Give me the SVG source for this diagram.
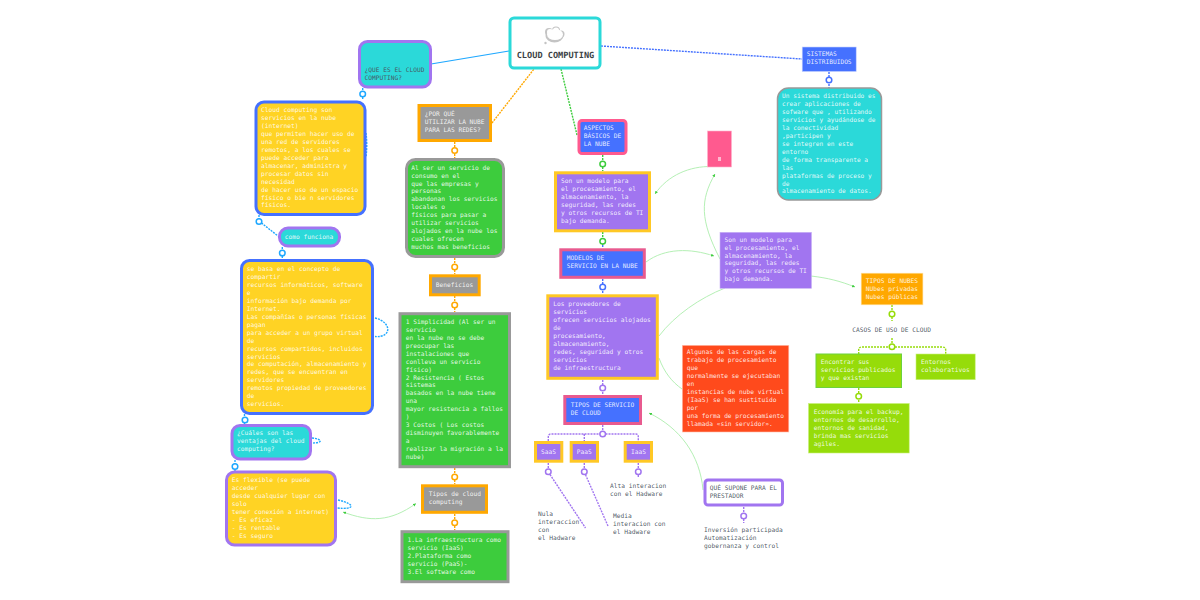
<svg xmlns="http://www.w3.org/2000/svg" width="1200" height="600" viewBox="0 0 1200 600">
<style>
text{font-family:"DejaVu Sans Mono","Liberation Mono",monospace;font-size:6.22px;fill:#fff;fill-opacity:.88;text-rendering:geometricPrecision;transform:translateY(-.6px)}
.d{fill:#47525c;fill-opacity:.95}
.box{stroke-width:3}
.c{fill:#fff;stroke-width:1.5}
.dash{fill:none;stroke-width:1.4;stroke-dasharray:2 1}
.soft{fill:none;stroke:#b5f0b5;stroke-width:1;marker-end:url(#a)}
.blue{stroke:#1fa8ff}.roy{stroke:#4571ff}.or{stroke:#ffa800}.gr{stroke:#3dcc3d}.pu{stroke:#a175f0}.li{stroke:#96dc0a}
</style>
<defs>
<marker id="a" markerWidth="4" markerHeight="4" refX="3" refY="1.5" orient="auto" markerUnits="userSpaceOnUse"><path d="M0,0L3,1.5L0,3z" fill="#3dcc3d"/></marker>
<marker id="b" markerWidth="4" markerHeight="4" refX="3" refY="1.5" orient="auto-start-reverse" markerUnits="userSpaceOnUse"><path d="M0,0L3,1.5L0,3z" fill="#3dcc3d"/></marker>
<filter id="s" x="-20%" y="-20%" width="140%" height="140%"><feGaussianBlur stdDeviation=".6"/></filter>
</defs>
<g id="connectors">
<path d="M431,64L509,51" fill="none" stroke="#1fa8ff" stroke-width="1.2"/>
<path class="dash or" d="M492,123L534,69"/>
<path class="dash gr" d="M561,69L577,135"/>
<path class="dash roy" d="M601,46L802,59"/>
<path class="dash blue" d="M362.7,88V100M259,215V221L278,236M282.3,247V259M244.5,414V424M235,460V471"/>
<path class="dash blue" d="M366,133C367,140 367,150 366,157M375,318C392,322 392,338 375,336.5M312,438C322,439 324,443 312,443M338,500C356,504 355,510 337,508"/>
<path class="dash or" d="M454.7,142V158M454.7,258V274M454.7,296V312M454.7,468V484M454.7,514V530"/>
<path class="dash gr" d="M602.7,155V171M602.7,232V245"/>
<path class="dash roy" d="M602.7,245V248M602.7,279V294"/>
<path class="dash pu" d="M602.7,380V395M602.7,425V434M548.3,441V437Q548.3,434 551,434H636Q638.3,434 638.3,437V441M584.3,434V441M548.3,463V472L585.5,528M584.3,463V472L608,526M638.3,463V478M743.7,507V523"/>
<path class="dash roy" d="M829,72V88"/>
<path class="dash li" d="M892,305V321M892,338V347M858.7,354V350Q858.7,347 862,347H942Q945.7,347 945.7,350V354M858.7,388V403"/>
<path class="soft" style="marker-start:url(#b)" d="M343,512C370,522 390,522 416,503.5"/>
<path class="soft" d="M712,166.5C690,166 668,175 655,194"/>
<path class="soft" d="M720,259C700,220 700,200 715,174"/>
<path class="soft" d="M646,262C665,248 690,248 714,256"/>
<path class="soft" style="marker-end:none" d="M659,336C675,315 700,298 725,288"/>
<path class="soft" style="marker-end:none" d="M659,358C664,372 672,382 682,389"/>
<path class="soft" d="M811,276C828,278 840,281 855,287"/>
<path class="soft" d="M703,490C700,455 680,428 649,413"/>
<circle class="c blue" cx="362.7" cy="94" r="2.8"/><circle class="c blue" cx="259" cy="221.5" r="2.8"/><circle class="c blue" cx="282.3" cy="253" r="2.8"/><circle class="c blue" cx="245" cy="420" r="2.8"/><circle class="c blue" cx="235" cy="466.5" r="2.8"/>
<circle class="c or" cx="454.7" cy="150.5" r="2.8"/><circle class="c or" cx="454.7" cy="267" r="2.8"/><circle class="c or" cx="454.7" cy="305" r="2.8"/><circle class="c or" cx="454.7" cy="477" r="2.8"/><circle class="c or" cx="454.7" cy="522.7" r="2.8"/>
<circle class="c gr" cx="602.7" cy="164" r="2.8"/><circle class="c gr" cx="602.7" cy="241.3" r="2.8"/><circle class="c roy" cx="602.7" cy="287" r="2.8"/>
<circle class="c pu" cx="602.7" cy="388" r="2.8"/><circle class="c pu" cx="602.7" cy="434" r="2.8"/><circle class="c pu" cx="548.3" cy="471.7" r="2.8"/><circle class="c pu" cx="584.3" cy="471.7" r="2.8"/><circle class="c pu" cx="638.3" cy="471.7" r="2.8"/><circle class="c pu" cx="743.7" cy="516" r="2.8"/>
<circle class="c roy" cx="829" cy="80" r="2.8"/>
<circle class="c li" cx="892" cy="314" r="2.8"/><circle class="c li" cx="892" cy="346.7" r="2.8"/><circle class="c li" cx="858.7" cy="396.3" r="2.8"/>
</g>
<g id="center"><rect x="510" y="18" width="90" height="50" rx="4" fill="#fff" stroke="#2bd9d9" stroke-width="3"/>
<g fill="#c4c4c4" filter="url(#s)"><ellipse cx="554.5" cy="36" rx="9" ry="6.5"/><circle cx="549" cy="32" r="4"/><circle cx="556" cy="30.5" r="4"/><circle cx="561" cy="34" r="3.5"/><circle cx="545.5" cy="43" r="1.2"/></g>
<g fill="#fff" filter="url(#s)"><ellipse cx="555" cy="34.5" rx="8" ry="5.5"/><circle cx="550" cy="32" r="3"/><circle cx="556" cy="30.5" r="3"/></g>
<text x="516.7" y="59" style="font-size:8.6px;fill:#3a3f44;fill-opacity:1;font-weight:700">CLOUD COMPUTING</text></g>
<g id="que-es"><rect class="box" x="359.5" y="41.5" width="71" height="45.5" rx="8" fill="#2bd9d9" stroke="#a175f0"/><text class="d" x="364.5" y="72.5">¿QUE ES EL CLOUD<tspan x="364.5" dy="8">COMPUTING?</tspan></text></g>
<g id="cloud-def"><rect class="box" x="256" y="102" width="109" height="112.5" rx="8" fill="#ffd324" stroke="#4571ff"/><text x="261" y="113">Cloud computing son<tspan x="261" dy="8">servicios en la nube</tspan><tspan x="261" dy="8">(internet)</tspan><tspan x="261" dy="8">que permiten hacer uso de</tspan><tspan x="261" dy="7.5">una red de servidores</tspan><tspan x="261" dy="8">remotos, a los cuales se</tspan><tspan x="261" dy="8">puede acceder para</tspan><tspan x="261" dy="8">almacenar, administra y</tspan><tspan x="261" dy="8">procesar datos sin</tspan><tspan x="261" dy="8">necesidad</tspan><tspan x="261" dy="8">de hacer uso de un espacio</tspan><tspan x="261" dy="8">físico o bie n servidores</tspan><tspan x="261" dy="7.5">físicos.</tspan></text></g>
<g id="como"><rect class="box" x="279.5" y="228" width="60" height="18" rx="8.5" fill="#2bd9d9" stroke="#a175f0"/><text x="284.7" y="239.5">como funciona</text></g>
<g id="se-basa"><rect class="box" x="241.5" y="260.5" width="131" height="153" rx="8" fill="#ffd324" stroke="#4571ff"/><text x="246.7" y="271.7">se basa en el concepto de<tspan x="246.7" dy="8">compartir</tspan><tspan x="246.7" dy="8">recursos informáticos, software</tspan><tspan x="246.7" dy="8">e</tspan><tspan x="246.7" dy="7.5">información bajo demanda por</tspan><tspan x="246.7" dy="8">Internet.</tspan><tspan x="246.7" dy="8">Las compañías o personas físicas</tspan><tspan x="246.7" dy="8">pagan</tspan><tspan x="246.7" dy="8">para acceder a un grupo virtual</tspan><tspan x="246.7" dy="8">de</tspan><tspan x="246.7" dy="8">recursos compartidos, incluidos</tspan><tspan x="246.7" dy="8">servicios</tspan><tspan x="246.7" dy="7.5">de computación, almacenamiento y</tspan><tspan x="246.7" dy="8">redes, que se encuentran en</tspan><tspan x="246.7" dy="8">servidores</tspan><tspan x="246.7" dy="8">remotos propiedad de proveedores</tspan><tspan x="246.7" dy="8">de</tspan><tspan x="246.7" dy="8">servicios.</tspan></text></g>
<g id="cuales"><rect class="box" x="232" y="425.5" width="78.5" height="33.5" rx="8" fill="#2bd9d9" stroke="#a175f0"/><text x="237" y="435.7">¿Cuáles son las<tspan x="237" dy="8">ventajas del cloud</tspan><tspan x="237" dy="8">computing?</tspan></text></g>
<g id="flexible"><rect class="box" x="226.5" y="472" width="109" height="73" rx="8" fill="#ffd324" stroke="#a175f0"/><text x="231.7" y="483">Es flexible (se puede<tspan x="231.7" dy="8">acceder</tspan><tspan x="231.7" dy="8">desde cualquier lugar con</tspan><tspan x="231.7" dy="8">solo</tspan><tspan x="231.7" dy="7.5">tener conexión a internet)</tspan><tspan x="231.7" dy="8">- Es eficaz</tspan><tspan x="231.7" dy="8">- Es rentable</tspan><tspan x="231.7" dy="8">- Es seguro</tspan></text></g>
<g id="por-que"><rect class="box" x="419" y="105.5" width="71.5" height="35" fill="#999" stroke="#ffa800"/><text x="424.7" y="116.5">¿POR QUÉ<tspan x="424.7" dy="8">UTILIZAR LA NUBE</tspan><tspan x="424.7" dy="8">PARA LAS REDES?</tspan></text></g>
<g id="al-ser"><rect class="box" x="406.5" y="159.5" width="97" height="97" rx="9" fill="#3dcc3d" stroke="#999"/><text x="411.3" y="170.5">Al ser un servicio de<tspan x="411.3" dy="8">consumo en el</tspan><tspan x="411.3" dy="8">que las empresas y</tspan><tspan x="411.3" dy="7.5">personas</tspan><tspan x="411.3" dy="8">abandonan los servicios</tspan><tspan x="411.3" dy="8">locales o</tspan><tspan x="411.3" dy="8">físicos para pasar a</tspan><tspan x="411.3" dy="8">utilizar servicios</tspan><tspan x="411.3" dy="8">alojados en la nube los</tspan><tspan x="411.3" dy="8">cuales ofrecen</tspan><tspan x="411.3" dy="8">muchos mas beneficios</tspan></text></g>
<g id="beneficios"><rect class="box" x="430.5" y="275.8" width="48.7" height="19" fill="#999" stroke="#ffa800"/><text x="435.7" y="287.3">Beneficios</text></g>
<g id="simplicidad"><rect class="box" x="400" y="313.7" width="109.5" height="153" fill="#3dcc3d" stroke="#999"/><text x="405.7" y="324.5">1 Simplicidad (Al ser un<tspan x="405.7" dy="8">servicio</tspan><tspan x="405.7" dy="8">en la nube no se debe</tspan><tspan x="405.7" dy="8">preocupar las</tspan><tspan x="405.7" dy="8">instalaciones que</tspan><tspan x="405.7" dy="8">conlleva un servicio</tspan><tspan x="405.7" dy="8">físico)</tspan><tspan x="405.7" dy="8">2 Resistencia ( Estos</tspan><tspan x="405.7" dy="7.5">sistemas</tspan><tspan x="405.7" dy="8">basados en la nube tiene</tspan><tspan x="405.7" dy="8">una</tspan><tspan x="405.7" dy="8">mayor resistencia a fallos</tspan><tspan x="405.7" dy="8">)</tspan><tspan x="405.7" dy="8">3 Costos ( Los costos</tspan><tspan x="405.7" dy="8">disminuyen favorablemente</tspan><tspan x="405.7" dy="8">a</tspan><tspan x="405.7" dy="7.5">realizar la migración a la</tspan><tspan x="405.7" dy="8">nube)</tspan></text></g>
<g id="tipos-cloud"><rect class="box" x="422.5" y="485.8" width="64" height="26.5" fill="#999" stroke="#ffa800"/><text x="428.7" y="497">Tipos de cloud<tspan x="428.7" dy="8">computing</tspan></text></g>
<g id="infra"><rect class="box" x="402" y="531.7" width="106" height="50" fill="#3dcc3d" stroke="#999"/><text x="407.5" y="542.7">1.La infraestructura como<tspan x="407.5" dy="8">servicio (IaaS)</tspan><tspan x="407.5" dy="8">2.Plataforma como</tspan><tspan x="407.5" dy="8">servicio (PaaS)-</tspan><tspan x="407.5" dy="7.5">3.El software como</tspan></text></g>
<g id="aspectos"><rect class="box" x="579" y="120.5" width="47" height="33" rx="3" fill="#4571ff" stroke="#ff5a8f"/><text x="583.7" y="130.7">ASPECTOS<tspan x="583.7" dy="8">BÁSICOS DE</tspan><tspan x="583.7" dy="8">LA NUBE</tspan></text></g>
<g id="son-1"><rect class="box" x="555.5" y="172.8" width="94" height="58" fill="#a175f0" stroke="#ffc825"/><text x="561" y="183.7">Son un modelo para<tspan x="561" dy="8">el procesamiento, el</tspan><tspan x="561" dy="8">almacenamiento, la</tspan><tspan x="561" dy="8">seguridad, las redes</tspan><tspan x="561" dy="8">y otros recursos de TI</tspan><tspan x="561" dy="8">bajo demanda.</tspan></text></g>
<g id="modelos"><rect class="box" x="560.8" y="249.8" width="83.5" height="27.5" fill="#4571ff" stroke="#e85a8f"/><text x="566.7" y="261">MODELOS DE<tspan x="566.7" dy="7.5">SERVICIO EN LA NUBE</tspan></text></g>
<g id="proveedores"><rect class="box" x="547.8" y="295.8" width="109.5" height="82.5" fill="#a175f0" stroke="#ffc825"/><text x="553.3" y="306.7">Los proveedores de<tspan x="553.3" dy="8">servicios</tspan><tspan x="553.3" dy="8">ofrecen servicios alojados</tspan><tspan x="553.3" dy="8">de</tspan><tspan x="553.3" dy="8">procesamiento,</tspan><tspan x="553.3" dy="8">almacenamiento,</tspan><tspan x="553.3" dy="8">redes, seguridad y otros</tspan><tspan x="553.3" dy="8">servicios</tspan><tspan x="553.3" dy="7.5">de infraestructura</tspan></text></g>
<g id="tipos-servicio"><rect class="box" x="564.8" y="396.5" width="75.7" height="27" fill="#4571ff" stroke="#e85a8f"/><text x="570.7" y="407.7">TIPOS DE SERVICIO<tspan x="570.7" dy="8">DE CLOUD</tspan></text></g>
<g id="saas"><rect class="box" x="535.5" y="442.5" width="26.3" height="18.7" fill="#a175f0" stroke="#ffc825"/><text x="541" y="454.3">SaaS</text></g>
<g id="paas"><rect class="box" x="571.2" y="442.5" width="26.3" height="18.7" fill="#a175f0" stroke="#ffc825"/><text x="576.7" y="454.3">PaaS</text></g>
<g id="iaas"><rect class="box" x="625.2" y="442.5" width="26.3" height="18.7" fill="#a175f0" stroke="#ffc825"/><text x="631" y="454.3">IaaS</text></g>
<g id="nula"><text class="d" x="538" y="516.5">Nula<tspan x="538" dy="8">interaccion</tspan><tspan x="538" dy="8">con</tspan><tspan x="538" dy="8">el Hadware</tspan></text></g>
<g id="media"><text class="d" x="613" y="518.5">Media<tspan x="613" dy="8">interacion con</tspan><tspan x="613" dy="8">el Hadware</tspan></text></g>
<g id="alta"><text class="d" x="610" y="488.5">Alta interacion<tspan x="610" dy="8">con el Hadware</tspan></text></g>
<g id="pink"><rect x="707.5" y="131" width="24" height="36" fill="#ff5a8f" stroke="#ffb3cc" stroke-width=".6"/><rect x="718" y="157" width="3" height="4" fill="#ffb8d0"/></g>
<g id="algunas"><rect x="682.3" y="345.3" width="106.5" height="86.7" fill="#ff4a1c" stroke="#ffc0b0" stroke-width=".6"/><text x="686.7" y="354.7">Algunas de las cargas de<tspan x="686.7" dy="8">trabajo de procesamiento</tspan><tspan x="686.7" dy="8">que</tspan><tspan x="686.7" dy="8">normalmente se ejecutaban</tspan><tspan x="686.7" dy="8">en</tspan><tspan x="686.7" dy="8">instancias de nube virtual</tspan><tspan x="686.7" dy="8">(IaaS) se han sustituido</tspan><tspan x="686.7" dy="8">por</tspan><tspan x="686.7" dy="8">una forma de procesamiento</tspan><tspan x="686.7" dy="8">llamada «sin servidor».</tspan></text></g>
<g id="supone"><rect class="box" x="705" y="480" width="77.5" height="25" rx="3" fill="#fff" stroke="#a175f0"/><text class="d" x="709.7" y="491">QUÉ SUPONE PARA EL<tspan x="709.7" dy="8">PRESTADOR</tspan></text></g>
<g id="inversion"><text class="d" x="704" y="533">Inversión participada<tspan x="704" dy="8">Automatización</tspan><tspan x="704" dy="8">gobernanza y control</tspan></text></g>
<g id="sistemas"><rect x="802.2" y="47" width="54" height="24.5" fill="#4571ff" stroke="#c5d2ff" stroke-width=".6"/><text x="806.7" y="56.7">SISTEMAS<tspan x="806.7" dy="8">DISTRIBUIDOS</tspan></text></g>
<g id="un-sistema"><rect x="777.5" y="88" width="104" height="112" rx="11" fill="#2bd9d9" stroke="#999" stroke-width="1.5"/><text x="782" y="98.7">Un sistema distribuido es<tspan x="782" dy="8">crear aplicaciones de</tspan><tspan x="782" dy="8">sofware que , utilizando</tspan><tspan x="782" dy="8">servicios y ayudándose de</tspan><tspan x="782" dy="7.5">la conectividad</tspan><tspan x="782" dy="8">,participen y</tspan><tspan x="782" dy="8">se integren en este</tspan><tspan x="782" dy="8">entorno</tspan><tspan x="782" dy="8">de forma transparente a</tspan><tspan x="782" dy="8">las</tspan><tspan x="782" dy="8">plataformas de proceso y</tspan><tspan x="782" dy="8">de</tspan><tspan x="782" dy="7.5">almacenamiento de datos.</tspan></text></g>
<g id="son-2"><rect x="720" y="232.3" width="91.5" height="56" fill="#a175f0" stroke="#c9b2f5" stroke-width=".6"/><text x="724.5" y="242.7">Son un modelo para<tspan x="724.5" dy="8">el procesamiento, el</tspan><tspan x="724.5" dy="7.5">almacenamiento, la</tspan><tspan x="724.5" dy="7.5">seguridad, las redes</tspan><tspan x="724.5" dy="8">y otros recursos de TI</tspan><tspan x="724.5" dy="8">bajo demanda.</tspan></text></g>
<g id="tipos-nubes"><rect x="861.2" y="273.2" width="61.7" height="31.6" fill="#ffa800" stroke="#ffdf99" stroke-width=".6"/><text x="865.7" y="283.5">TIPOS DE NUBES<tspan x="865.7" dy="8">NUbes privadas</tspan><tspan x="865.7" dy="8">Nubes públicas</tspan></text></g>
<g id="casos"><text class="d" x="852.3" y="332.3">CASOS DE USO DE CLOUD</text></g>
<g id="encontrar"><rect x="816" y="354" width="85.5" height="33.5" fill="#96dc0a" stroke="#6cd23c"/><text x="820.7" y="365">Encontrar sus<tspan x="820.7" dy="8">servicios publicados</tspan><tspan x="820.7" dy="8">y que existan</tspan></text></g>
<g id="entornos"><rect x="916" y="354" width="59.2" height="25.7" fill="#96dc0a" stroke="#c9f07a" stroke-width=".6"/><text x="921" y="365">Entornos<tspan x="921" dy="8">colaborativos</tspan></text></g>
<g id="economia"><rect x="808.5" y="403.5" width="100.7" height="49.5" fill="#96dc0a" stroke="#c9f07a" stroke-width=".6"/><text x="813.7" y="414.5">Economía para el backup,<tspan x="813.7" dy="8">entornos de desarrollo,</tspan><tspan x="813.7" dy="8">entornos de sanidad,</tspan><tspan x="813.7" dy="8">brinda mas servicios</tspan><tspan x="813.7" dy="8">agiles.</tspan></text></g>
</svg>
